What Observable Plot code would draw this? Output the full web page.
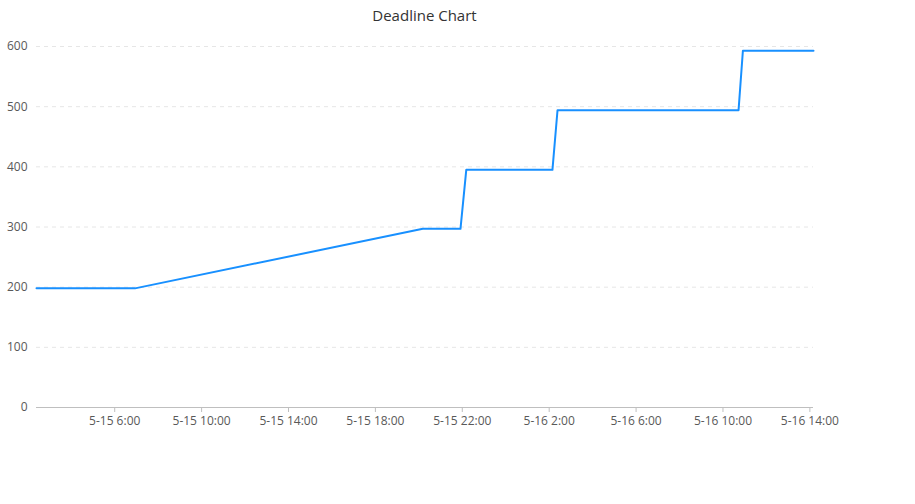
<!DOCTYPE html>
<html>
<head>
<meta charset="utf-8">
<script src="https://cdn.jsdelivr.net/npm/d3@7"></script>
<script src="https://cdn.jsdelivr.net/npm/@observablehq/plot@0.6"></script>
<style>
  html, body { margin: 0; padding: 0; background: #fff; }
  #wrap { position: relative; width: 915px; height: 504px; font-family: "Open Sans", "Noto Sans", sans-serif; }
  #title { position: absolute; left: 36px; width: 777px; top: 5px; text-align: center; font-size: 15px; color: #333; }
  #chart { position: absolute; left: 0; top: 0; }
</style>
</head>
<body>
<div id="wrap">
  <div id="chart"></div>
  <div id="title">Deadline Chart</div>
</div>
<script>
const titleText = "Deadline Chart";
const times = [
  "2023-05-15T02:24", "2023-05-15T06:56", "2023-05-15T20:11", "2023-05-15T21:55",
  "2023-05-15T22:11", "2023-05-16T02:09", "2023-05-16T02:23", "2023-05-16T10:43",
  "2023-05-16T10:55", "2023-05-16T14:10"
];
const values = [198, 198, 297, 297, 395, 395, 494, 494, 593, 593];
const yTicks = [0, 100, 200, 300, 400, 500, 600];
const xTickTimes = [
  "2023-05-15T06:00", "2023-05-15T10:00", "2023-05-15T14:00", "2023-05-15T18:00",
  "2023-05-15T22:00", "2023-05-16T02:00", "2023-05-16T06:00", "2023-05-16T10:00",
  "2023-05-16T14:00"
];

const data = times.map((t, i) => ({ t: new Date(t), v: values[i] }));
const xTicks = xTickTimes.map(t => new Date(t));
const fmt = d => `${d.getMonth() + 1}-${d.getDate()} ${d.getHours()}:${String(d.getMinutes()).padStart(2, "0")}`;

const plot = Plot.plot({
  width: 915,
  height: 504,
  marginLeft: 36,
  marginRight: 102,
  marginTop: 46,
  marginBottom: 97,
  style: { fontFamily: "'Open Sans', 'Noto Sans', sans-serif", fontSize: "12px", color: "#595959", background: "#fff" },
  x: { type: "time", domain: d3.extent(data, d => d.t) },
  y: { domain: [0, 600] },
  marks: [
    Plot.gridY(yTicks, { stroke: "#e6e6e6", strokeOpacity: 1, strokeDasharray: "4,4", strokeWidth: 1 }),
    Plot.ruleY([0], { stroke: "#bfbfbf", strokeWidth: 1 }),
    Plot.axisY(yTicks, { tickSize: 0, tickPadding: 9, fill: "#595959", fontSize: 12, label: null }),
    Plot.axisX(xTicks, { tickSize: 5, stroke: "#bfbfbf", tickFormat: fmt, tickPadding: 4, fill: "#595959", fontSize: 12, label: null }),
    Plot.line(data, { x: "t", y: "v", stroke: "#1890ff", strokeWidth: 2 })
  ]
});
document.getElementById("chart").appendChild(plot);
</script>
</body>
</html>
